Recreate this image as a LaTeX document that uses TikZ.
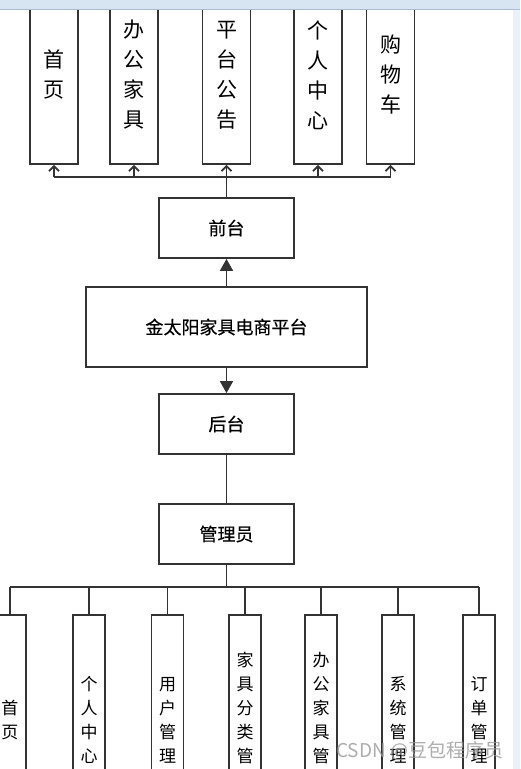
\documentclass[tikz,border=0pt]{standalone}
\usepackage{fontspec}
\setmainfont{Noto Sans CJK SC}
\newfontfamily\medfont{Noto Sans CJK SC}[FakeBold=0.5]
\usetikzlibrary{arrows.meta}
\definecolor{ln}{HTML}{333333}
\definecolor{barblue}{HTML}{D7E4F2}
\definecolor{barline}{HTML}{A9BCD4}
\definecolor{sidestrip}{HTML}{EBF1F9}
\begin{document}
\begin{tikzpicture}[x=1pt,y=-1pt,
  box/.style={draw=ln,line width=1.8pt,inner sep=0pt,fill=white},
  topbox/.style={box,minimum width=48pt,minimum height=178pt,align=center,font=\fontsize{21pt}{30pt}\selectfont},
  midbox/.style={box,minimum width=135pt,minimum height=60pt,font=\medfont\fontsize{18pt}{20pt}\selectfont},
  botbox/.style={box,minimum width=32pt,minimum height=210pt,align=center,font=\fontsize{17pt}{24pt}\selectfont},
  conn/.style={draw=ln,line width=1.8pt},
  openarrow/.style={conn,-{Straight Barb[length=5pt,width=10pt]}},
  fillarrow/.style={conn,-{Triangle[length=12pt,width=13pt]}}]
\useasboundingbox (0,0) rectangle (520,769);
\fill[white] (0,0) rectangle (520,769);
% top row
\node[topbox] (t1) at (54,75) {首\\页};
\node[topbox] (t2) at (134,75) {办\\公\\家\\具};
\node[topbox] (t3) at (226.5,75) {平\\台\\公\\告};
\node[topbox] (t4) at (318,75) {个\\人\\中\\心};
\node[topbox] (t5) at (390.5,75) {购\\物\\车};
% middle
\node[midbox] (front) at (226.5,228) {前台};
\node[midbox,minimum width=281pt,minimum height=80pt] (plat) at (226.5,327) {金太阳家具电商平台};
\node[midbox] (back) at (226.5,424) {后台};
\node[midbox] (admin) at (226.5,534) {管理员};
% bottom row
\node[botbox] (b1) at (10,720) {首\\页};
\node[botbox] (b2) at (89,720) {个\\人\\中\\心};
\node[botbox] (b3) at (167.5,720) {用\\户\\管\\理};
\node[botbox] (b4) at (245,720) {家\\具\\分\\类\\管\\理};
\node[botbox] (b5) at (321,720) {办\\公\\家\\具\\管\\理};
\node[botbox] (b6) at (398,720) {系\\统\\管\\理};
\node[botbox] (b7) at (479,720) {订\\单\\管\\理};
% buses
\coordinate (tb) at (226.5,177);
\coordinate (bb) at (226.5,587);
\draw[conn] (front.north) -- (tb);
\draw[conn] (t1.south |- tb) -- (t5.south |- tb);
\foreach \i in {1,...,5} \draw[openarrow] (t\i.south |- tb) -- (t\i.south);
\draw[fillarrow] (plat.north) -- (front.south);
\draw[fillarrow] (plat.south) -- (back.north);
\draw[conn] (back.south) -- (admin.north);
\draw[conn] (admin.south) -- (bb);
\draw[conn] (b1.north |- bb) -- (b7.north |- bb);
\foreach \i in {1,...,7} \draw[conn] (b\i.north |- bb) -- (b\i.north);
% watermark
\node[text=black!40,opacity=0.8,font=\fontsize{19pt}{20pt}\selectfont,anchor=base west,inner sep=0pt] (wm) at (336,757) {CSDN @豆包程序员};
% window chrome
\fill[barblue] (0,0) rectangle (520,9);
\draw[barline,line width=1pt] (0,9.5) -- (520,9.5);
\fill[sidestrip] (513,10) rectangle (520,769);
\end{tikzpicture}
\end{document}
